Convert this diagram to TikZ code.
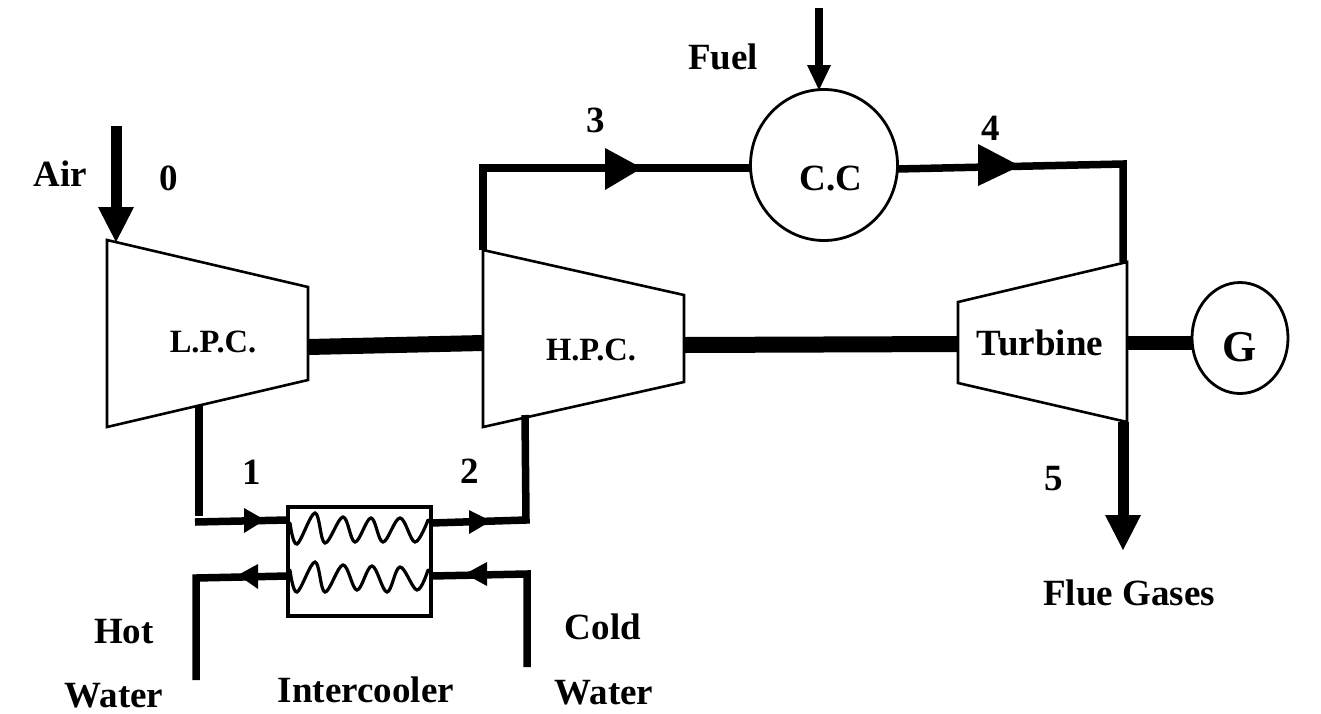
\documentclass[tikz,border=0pt]{standalone}
\usepackage{fontspec}
\setmainfont{Liberation Serif}
\tikzset{
  lbl/.style={anchor=base,inner sep=0pt,font=\fontsize{37}{40}\selectfont\bfseries},
  small/.style={lbl,font=\fontsize{32.5}{36}\selectfont\bfseries},
  comp/.style={draw=black,line width=2.6pt,line join=miter},
  circ/.style={draw=black,line width=2.8pt,ellipse,inner sep=0pt,minimum width=#1},
  pipe/.style={draw=black,line width=7.5pt,line join=miter},
  shaft/.style={draw=black,line width=16pt},
  tip/.style={fill=black,draw=none},
  coil/.style={draw=black,line width=3.2pt,line cap=round}
}
\usetikzlibrary{shapes.geometric}
\begin{document}
\begin{tikzpicture}[x=1pt,y=-1pt]
\useasboundingbox (0,0) rectangle (1321,713);
% named corners
\coordinate (a1) at (107,240); \coordinate (a2) at (308,287); \coordinate (a3) at (308,380); \coordinate (a4) at (107,427);
\coordinate (b1) at (483,250); \coordinate (b2) at (684,295); \coordinate (b3) at (684,382); \coordinate (b4) at (483,427);
\coordinate (t1) at (958,302); \coordinate (t2) at (1127,262); \coordinate (t3) at (1127,422); \coordinate (t4) at (958,383);
\draw[comp] (a1)--(a2)--(a3)--(a4)--cycle;
\draw[comp] (b1)--(b2)--(b3)--(b4)--cycle;
\draw[comp] (t1)--(t2)--(t3)--(t4)--cycle;
\node[circ=147pt,minimum height=151pt] (cc) at (824,165) {};
\node[circ=96pt,minimum height=111pt] (g) at (1240,338) {};
\node[draw=black,line width=3.6pt,minimum width=143pt,minimum height=109pt,inner sep=0pt] (ic) at (359.5,561.5) {};
% shafts
\coordinate (s1) at (308,347); \coordinate (s2) at (483,343);
\coordinate (s3) at (684,345); \coordinate (s4) at (958,344);
\coordinate (s5) at (1127,343); \coordinate (s6) at (1192,343);
\draw[shaft] (s1)--(s2);
\draw[shaft] (s3)--(s4);
\draw[shaft,line width=14pt] (s5)--(s6);
% air
\coordinate (air0) at (116,126); \coordinate (air1) at (116,207);
\draw[pipe,line width=11pt] (air0)--(air1);
\fill[tip] (98,207)--(134,207)--(116,242)--cycle;
% fuel
\coordinate (f0) at (819,8); \coordinate (f1) at (819,66);
\draw[pipe] (f0)--(f1);
\fill[tip] (807,65)--(831,65)--(819,90)--cycle;
% state 3
\coordinate (p3a) at (483,250); \coordinate (p3b) at (483,168); \coordinate (p3c) at (750,168);
\draw[pipe] (p3a)--(p3b)--(p3c);
\fill[tip] (605,148)--(605,190)--(642,168)--cycle;
% state 4
\coordinate (p4a) at (897,169); \coordinate (p4b) at (1123,164); \coordinate (p4c) at (1123,262);
\draw[pipe] (p4a)--(p4b)--(p4c);
\fill[tip] (978,144)--(978,186)--(1020,166)--cycle;
% state 5
\coordinate (p5a) at (1123,422); \coordinate (p5b) at (1123,516);
\draw[pipe,line width=11pt] (p5a)--(p5b);
\fill[tip] (1105,515)--(1141,515)--(1123,550)--cycle;
% state 1
\coordinate (p1a) at (199,405); \coordinate (p1b) at (199,516); \coordinate (p1c) at (195,522); \coordinate (p1d) at (288,520);
\draw[pipe] (p1a)--(p1b);
\draw[pipe] (p1c)--(p1d);
\fill[tip] (244,508)--(244,533)--(265,520)--cycle;
% state 2
\coordinate (p2a) at (431,523); \coordinate (p2b) at (526,520); \coordinate (p2c) at (525,415);
\draw[pipe] (p2a)--(p2b)--(p2c);
\fill[tip] (469,510)--(469,534)--(491,521)--cycle;
% hot water
\coordinate (h0) at (196,680); \coordinate (h1) at (196,578); \coordinate (h2) at (288,576);
\draw[pipe] (h0)--(h1)--(h2);
\fill[tip] (258,564)--(258,589)--(238,575)--cycle;
% cold water
\coordinate (c0) at (527,667); \coordinate (c1) at (527,574); \coordinate (c2) at (431,576);
\draw[pipe] (c0)--(c1)--(c2);
\fill[tip] (487,562)--(487,586)--(465,574)--cycle;
% coils
\draw[coil] plot[smooth,tension=.6] coordinates {(290,523)(297,544)(315,513)(325,543)(343,517)(355,542)(371,518)(383,542)(400,518)(415,542)(428,520)};
\draw[coil] plot[smooth,tension=.6] coordinates {(290,570)(297,592)(315,562)(325,592)(343,565)(357,590)(372,566)(387,592)(400,567)(417,590)(428,570)};
% labels
\node[lbl] (lair) at (60,186) {Air};
\node[lbl] (l0) at (169,190) {0};
\node[lbl] (lfuel) at (723,69) {Fuel};
\node[lbl] (l3) at (596,132) {3};
\node[lbl] (l4) at (991,140) {4};
\node[lbl] (lcc) at (831,190) {C.C};
\node[small] (llpc) at (213,352) {L.P.C.};
\node[small] (lhpc) at (591,360) {H.P.C.};
\node[lbl] (ltur) at (1040,355) {Turbine};
\node[lbl,font=\fontsize{44}{46}\selectfont\bfseries] (lg) at (1240,361) {G};
\node[lbl] (l5) at (1054,490) {5};
\node[lbl] (lflue) at (1129,605) {Flue Gases};
\node[lbl] (l1) at (252,484) {1};
\node[lbl] (l2) at (470,483) {2};
\node[lbl] (lhot) at (124,643) {Hot};
\node[lbl] (lhw) at (114,707) {Water};
\node[lbl] (lcold) at (603,639) {Cold};
\node[lbl] (lcw) at (604,704) {Water};
\node[lbl] (lint) at (366,702) {Intercooler};
\end{tikzpicture}
\end{document}
